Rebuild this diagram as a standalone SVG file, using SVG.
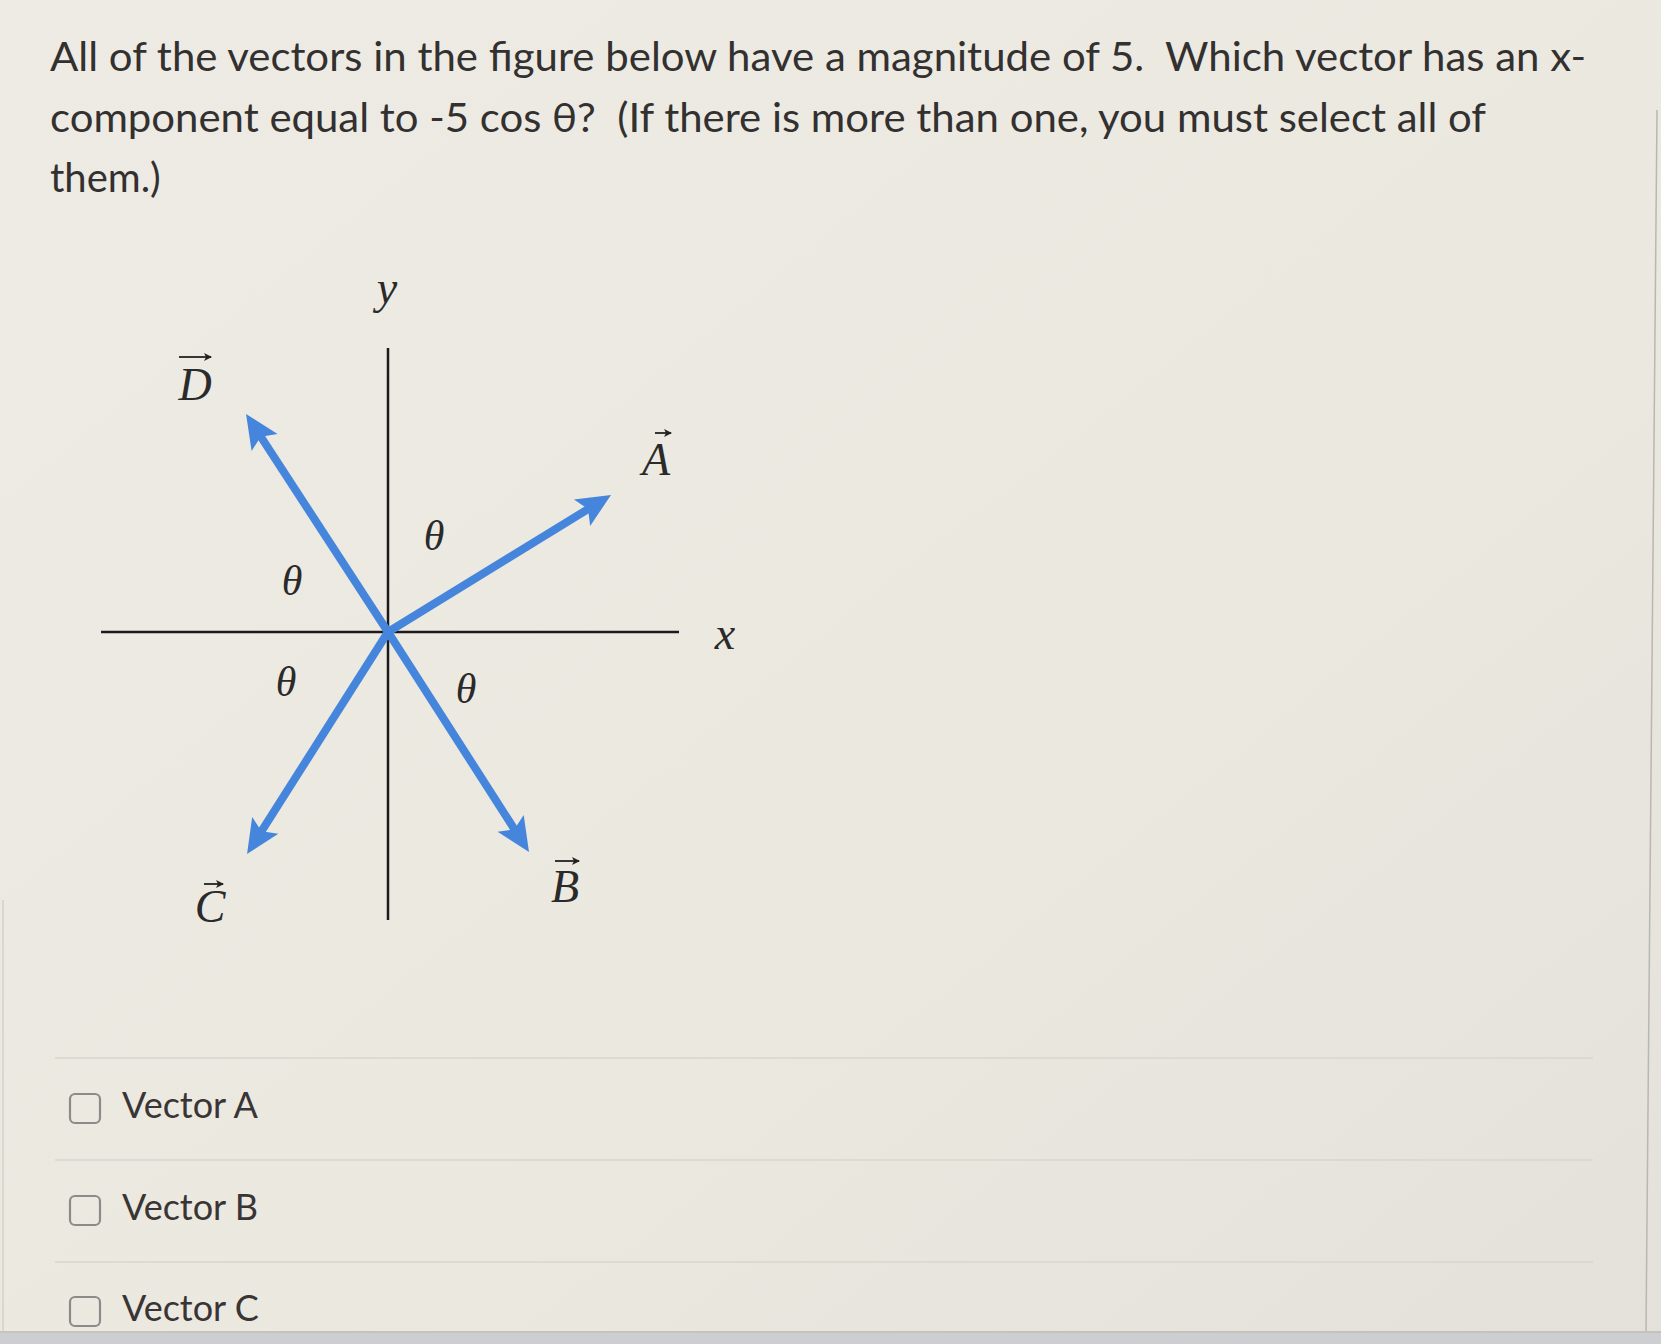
<svg xmlns="http://www.w3.org/2000/svg" width="1661" height="1344" viewBox="0 0 1661 1344">
  <defs>
    <linearGradient id="bg" x1="0" y1="0" x2="1" y2="1">
      <stop offset="0" stop-color="#eeebe4"/>
      <stop offset="0.6" stop-color="#ebe8e0"/>
      <stop offset="1" stop-color="#e4e1da"/>
    </linearGradient>
    <marker id="bighead" viewBox="-26 -18 38 36" markerWidth="38" markerHeight="36" refX="0" refY="0" markerUnits="userSpaceOnUse" orient="auto">
      <path d="M10,0 L-24,-15.5 L-17,0 L-24,15.5 Z" fill="#4586dc"/>
    </marker>
    <marker id="smallhead" viewBox="-10 -6 12 12" markerWidth="12" markerHeight="12" refX="0" refY="0" markerUnits="userSpaceOnUse" orient="auto">
      <path d="M1,0 L-7,-4 L-5,0 L-7,4 Z" fill="#222"/>
    </marker>
  </defs>
  <style>
    .q { font-family: Lato, "Liberation Sans", sans-serif; font-size: 40px; fill: #333030; white-space: pre; }
    .opt { font-family: Lato, "Liberation Sans", sans-serif; font-size: 36px; fill: #3a3535; }
    .box { fill: none; stroke: #8c8b87; stroke-width: 2.2; }
    .sep { stroke: #d9d6ce; stroke-width: 1.5; }
    .math { font-family: "Liberation Serif", "DejaVu Serif", serif; font-style: italic; font-size: 46px; fill: #2a2a2a; text-anchor: middle; }
    .th { font-family: "Liberation Serif", "DejaVu Serif", serif; font-style: italic; font-size: 42px; fill: #2a2a2a; text-anchor: middle; }
    .axis { stroke: #1c1a1c; stroke-width: 2.5; }
    .vec { stroke: #4586dc; stroke-width: 8; fill: none; marker-end: url(#bighead); }
    .varrow { stroke: #222; stroke-width: 1.8; marker-end: url(#smallhead); }
  </style>

  <rect x="0" y="0" width="1661" height="1344" fill="url(#bg)"/>
  <line x1="1657" y1="110" x2="1646" y2="1331" stroke="#b9b7b1" stroke-width="1.5"/>
  <line x1="3" y1="900" x2="3" y2="1331" stroke="#d3d0c9" stroke-width="1.5"/>
  <line x1="0" y1="1332" x2="1661" y2="1332" stroke="#b8b7b2" stroke-width="1.5"/>
  <rect x="0" y="1333" width="1661" height="11" fill="#ccced1"/>

  <g id="question">
    <text class="q" x="50" y="71" textLength="1536" lengthAdjust="spacingAndGlyphs">All of the vectors in the figure below have a magnitude of 5.  Which vector has an x-</text>
    <text class="q" x="50" y="132" textLength="1436" lengthAdjust="spacingAndGlyphs">component equal to -5 cos θ?  (If there is more than one, you must select all of</text>
    <text class="q" x="50" y="192">them.)</text>
  </g>

  <g id="axes">
    <line class="axis" x1="388" y1="348" x2="388" y2="920"/>
    <line class="axis" x1="101" y1="632" x2="679" y2="632"/>
    <text class="math" x="387" y="303">y</text>
    <text class="math" x="725" y="649">x</text>
  </g>

  <g id="connectors">
    <line class="vec" x1="388" y1="632" x2="602.5" y2="500.2"/>
    <line class="vec" x1="388" y1="632" x2="251.5" y2="422.4"/>
    <line class="vec" x1="388" y1="632" x2="252.4" y2="845.6"/>
    <line class="vec" x1="388" y1="632" x2="523.6" y2="843.6"/>
  </g>

  <g id="label-A">
    <text class="math" x="656" y="475">A</text>
    <line class="varrow" x1="655" y1="433" x2="671" y2="433"/>
  </g>
  <g id="label-B">
    <text class="math" x="565" y="902">B</text>
    <line class="varrow" x1="555" y1="861" x2="579" y2="861"/>
  </g>
  <g id="label-C">
    <text class="math" x="210" y="922">C</text>
    <line class="varrow" x1="204" y1="884" x2="223" y2="884"/>
  </g>
  <g id="label-D">
    <text class="math" x="195" y="400">D</text>
    <line class="varrow" x1="179" y1="357" x2="211" y2="357"/>
  </g>

  <g id="angles">
    <text class="th" x="434" y="550">θ</text>
    <text class="th" x="292" y="595">θ</text>
    <text class="th" x="286" y="696">θ</text>
    <text class="th" x="466" y="703">θ</text>
  </g>

  <g id="options">
    <line class="sep" x1="55" y1="1058" x2="1593" y2="1058"/>
    <line class="sep" x1="55" y1="1160" x2="1593" y2="1160"/>
    <line class="sep" x1="55" y1="1262" x2="1593" y2="1262"/>
    <g id="opt-A">
      <rect class="box" x="70" y="1094" width="30" height="29" rx="5"/>
      <text class="opt" x="122" y="1118">Vector A</text>
    </g>
    <g id="opt-B">
      <rect class="box" x="70" y="1196" width="30" height="29" rx="5"/>
      <text class="opt" x="122" y="1220">Vector B</text>
    </g>
    <g id="opt-C">
      <rect class="box" x="70" y="1297" width="30" height="29" rx="5"/>
      <text class="opt" x="122" y="1321">Vector C</text>
    </g>
  </g>
</svg>
